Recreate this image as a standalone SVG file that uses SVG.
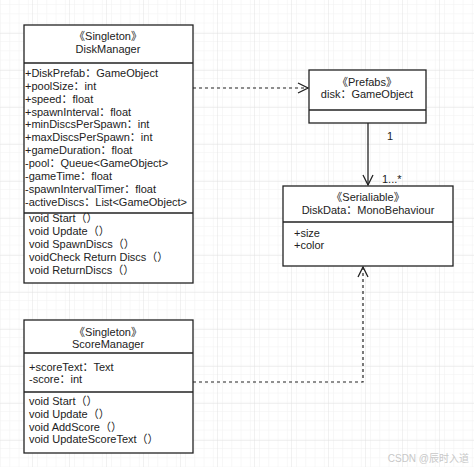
<svg xmlns="http://www.w3.org/2000/svg" width="474" height="467" viewBox="0 0 474 467">
<defs>
<pattern id="minor" width="9.25" height="9.25" patternUnits="userSpaceOnUse" x="1" y="5">
<path d="M9.25 0V9.25M0 9.25H9.25" fill="none" stroke="#f1f1f1" stroke-width="1"/>
</pattern>
<pattern id="major" width="37" height="37" patternUnits="userSpaceOnUse" x="33" y="34">
<path d="M37 0V37M0 37H37" fill="none" stroke="#e2e2e2" stroke-width="1"/>
</pattern>
<marker id="open" viewBox="0 0 12 12" refX="11" refY="6" markerWidth="12" markerHeight="12" markerUnits="userSpaceOnUse" orient="auto">
<path d="M1 1L11 6L1 11" fill="none" stroke="#222" stroke-width="1.3"/>
</marker>
<style>
.box{fill:#fff;stroke:#222;stroke-width:1.3}
.sep{stroke:#222;stroke-width:1.3}
text{font-family:"Liberation Sans","Noto Sans CJK SC",sans-serif;font-size:11px;fill:#222}
.c{text-anchor:middle}
.dash{fill:none;stroke:#222;stroke-width:1.2;stroke-dasharray:3 3}
.solid{fill:none;stroke:#222;stroke-width:1.3}
</style>
</defs>
<rect width="474" height="467" fill="#fff"/>
<rect width="474" height="467" fill="url(#minor)"/>
<rect width="474" height="467" fill="url(#major)"/>

<g id="connectors">
<path class="dash" d="M193 88H308" marker-end="url(#open)"/>
<path class="solid" d="M368 123V185" marker-end="url(#open)"/>
<path class="dash" d="M193 382H363V267" marker-end="url(#open)"/>
<text x="390" y="140" class="c">1</text>
<text x="382" y="183">1...*</text>
</g>

<g id="DiskManager">
<rect class="box" x="24" y="25" width="169" height="258"/>
<line class="sep" x1="24" y1="63" x2="193" y2="63"/>
<line class="sep" x1="24" y1="213" x2="193" y2="213"/>
<text x="108" y="40" class="c">《Singleton》</text>
<text x="108" y="53" class="c">DiskManager</text>
<text x="25" y="77">+DiskPrefab：GameObject</text>
<text x="25" y="90">+poolSize：int</text>
<text x="25" y="103">+speed：float</text>
<text x="25" y="116">+spawnInterval：float</text>
<text x="25" y="128">+minDiscsPerSpawn：int</text>
<text x="25" y="141">+maxDiscsPerSpawn：int</text>
<text x="25" y="154">+gameDuration：float</text>
<text x="25" y="167">-pool：Queue&lt;GameObject&gt;</text>
<text x="25" y="180">-gameTime：float</text>
<text x="25" y="193">-spawnIntervalTimer：float</text>
<text x="25" y="206">-activeDiscs：List&lt;GameObject&gt;</text>
<text x="29" y="222">void Start（）</text>
<text x="29" y="235">void Update（）</text>
<text x="29" y="248">void SpawnDiscs（）</text>
<text x="29" y="261">voidCheck Return Discs（）</text>
<text x="29" y="274">void ReturnDiscs（）</text>
</g>

<g id="Prefabs">
<rect class="box" x="309" y="70" width="117" height="53"/>
<line class="sep" x1="309" y1="110" x2="426" y2="110"/>
<text x="367" y="86" class="c">《Prefabs》</text>
<text x="367" y="98" class="c">disk：GameObject</text>
</g>

<g id="DiskData">
<rect class="box" x="283" y="186" width="170" height="80"/>
<line class="sep" x1="283" y1="222" x2="453" y2="222"/>
<text x="368" y="201" class="c">《Serialiable》</text>
<text x="368" y="214" class="c">DiskData：MonoBehaviour</text>
<text x="294" y="237">+size</text>
<text x="294" y="249">+color</text>
</g>

<g id="ScoreManager">
<rect class="box" x="24" y="320" width="169" height="133"/>
<line class="sep" x1="24" y1="353" x2="193" y2="353"/>
<line class="sep" x1="24" y1="392" x2="193" y2="392"/>
<text x="108" y="336" class="c">《Singleton》</text>
<text x="108" y="348" class="c">ScoreManager</text>
<text x="29" y="371">+scoreText：Text</text>
<text x="29" y="383">-score：int</text>
<text x="29" y="405">void Start（）</text>
<text x="29" y="418">void Update（）</text>
<text x="29" y="431">void AddScore（）</text>
<text x="29" y="443">void UpdateScoreText（）</text>
</g>

<text x="469" y="462" style="font-size:10px;fill:#c8c8c8;text-anchor:end">CSDN @辰时入道</text>
</svg>
